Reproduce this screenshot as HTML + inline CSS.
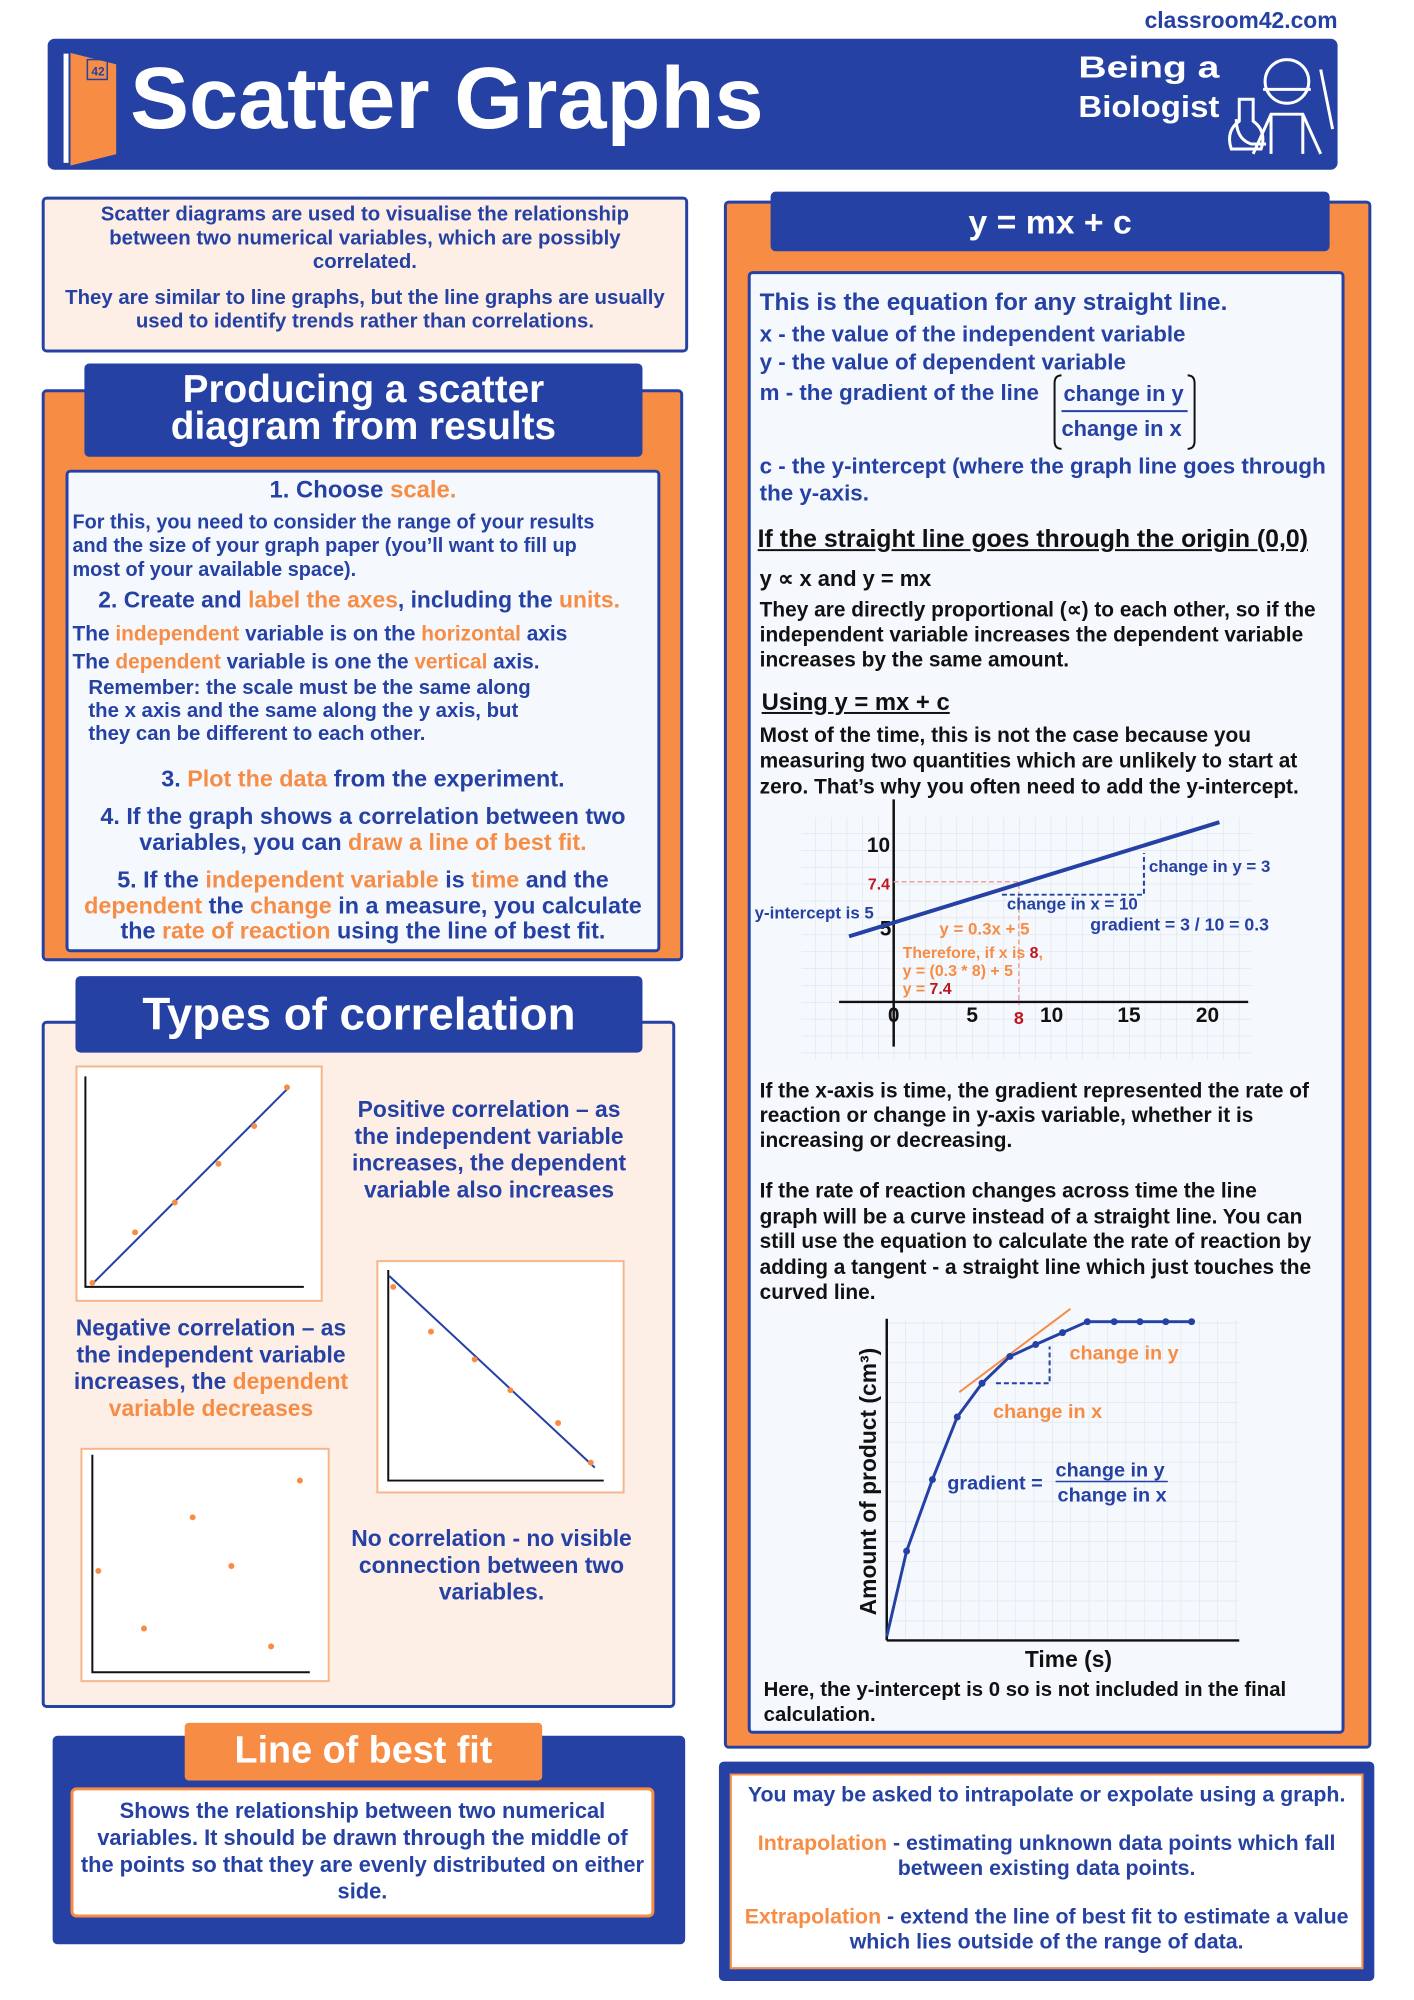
<!DOCTYPE html>
<html><head><meta charset="utf-8">
<style>
*{margin:0;padding:0;box-sizing:border-box}
body{width:1414px;height:2000px;position:relative;background:#fff;font-family:"Liberation Sans",sans-serif;font-weight:bold;color:#2541a3;overflow:hidden}
#w{position:absolute;left:0;top:0;width:1424px;height:2014px;transform:scale(0.993);transform-origin:0 0}
.a{position:absolute}
.t{position:absolute;white-space:nowrap;font-size:18px;line-height:24px}
.c{text-align:center}
.o{color:#f78c45}.r{color:#c0151f}.w{color:#fff}.k{color:#111}
.box{position:absolute;border:3px solid #2541a3;border-radius:5px}
</style></head><body><div id="w">

<div class="t" style="left:1100px;width:247px;text-align:right;top:6px;font-size:23px;line-height:28px">classroom42.com</div>
<div class="box" style="left:48px;top:39px;width:1299px;height:132px;background:#2541a3;border-radius:7px"></div>

<!-- left top -->
<div class="box" style="left:42px;top:198px;width:651px;height:157px;background:#fdeee6"></div>
<div class="t c" style="left:42px;width:651px;top:204px;font-size:20.5px">Scatter diagrams are used to visualise the relationship<br>between two numerical variables, which are possibly<br>correlated.</div>
<div class="t c" style="left:42px;width:651px;top:288px;font-size:20.5px">They are similar to line graphs, but the line graphs are usually<br>used to identify trends rather than correlations.</div>

<!-- producing -->
<div class="box" style="left:42px;top:392px;width:646px;height:576px;background:#f78c45"></div>
<div class="box" style="left:85px;top:366px;width:562px;height:94px;background:#2541a3"></div>
<div class="t c w" style="left:85px;width:562px;top:374px;font-size:39px;line-height:37px">Producing a scatter<br>diagram from results</div>
<div class="box" style="left:66px;top:473px;width:599px;height:486px;background:#f5f9fd"></div>
<div class="t c" style="left:66px;width:599px;top:482px;font-size:24px">1. Choose <span class="o">scale.</span></div>
<div class="t" style="left:73px;top:514px;font-size:20px">For this, you need to consider the range of your results<br>and the size of your graph paper (you’ll want to fill up<br>most of your available space).</div>
<div class="t" style="left:99px;top:592px;font-size:23px">2. Create and <span class="o">label the axes</span>, including the <span class="o">units.</span></div>
<div class="t" style="left:73px;top:627px;font-size:21px">The <span class="o">independent</span> variable is on the <span class="o">horizontal</span> axis</div>
<div class="t" style="left:73px;top:655px;font-size:21px">The <span class="o">dependent</span> variable is one the <span class="o">vertical</span> axis.</div>
<div class="t" style="left:89px;top:681px;font-size:20.5px;line-height:23px">Remember: the scale must be the same along<br>the x axis and the same along the y axis, but<br>they can be different to each other.</div>
<div class="t c" style="left:66px;width:599px;top:772px;font-size:23.5px">3. <span class="o">Plot the data</span> from the experiment.</div>
<div class="t c" style="left:66px;width:599px;top:810px;font-size:23.5px;line-height:25.5px">4. If the graph shows a correlation between two<br>variables, you can <span class="o">draw a line of best fit.</span></div>
<div class="t c" style="left:66px;width:599px;top:874px;font-size:23.5px;line-height:25.5px">5. If the <span class="o">independent variable</span> is <span class="o">time</span> and the<br><span class="o">dependent</span> the <span class="o">change</span> in a measure, you calculate<br>the <span class="o">rate of reaction</span> using the line of best fit.</div>

<!-- types -->
<div class="box" style="left:42px;top:1028px;width:638px;height:692px;background:#fdeee6"></div>
<div class="box" style="left:76px;top:983px;width:571px;height:77px;background:#2541a3"></div>
<div class="t c w" style="left:76px;width:571px;top:996px;font-size:46px;line-height:50px">Types of correlation</div>
<div class="a" style="left:76px;top:1073px;width:249px;height:238px;border:2px solid #f7b58a;background:#fff"></div>
<div class="a" style="left:379px;top:1269px;width:250px;height:235px;border:2px solid #f7b58a;background:#fff"></div>
<div class="a" style="left:81px;top:1458px;width:251px;height:236px;border:2px solid #f7b58a;background:#fff"></div>
<div class="t c" style="left:340px;width:305px;top:1104px;font-size:23px;line-height:27px">Positive correlation – as<br>the independent variable<br>increases, the dependent<br>variable also increases</div>
<div class="t c" style="left:60px;width:305px;top:1324px;font-size:23px;line-height:27px">Negative correlation – as<br>the independent variable<br>increases, the <span class="o">dependent</span><br><span class="o">variable decreases</span></div>
<div class="t c" style="left:340px;width:310px;top:1536px;font-size:23px;line-height:27px">No correlation - no visible<br>connection between two<br>variables.</div>

<!-- line of best fit -->
<div class="box" style="left:53px;top:1748px;width:637px;height:210px;background:#2541a3"></div>
<div class="a" style="left:186px;top:1735px;width:360px;height:58px;background:#f78c45;border-radius:4px"></div>
<div class="t c w" style="left:186px;width:360px;top:1744px;font-size:38px;line-height:38px">Line of best fit</div>
<div class="a" style="left:71px;top:1800px;width:588px;height:131px;background:#fff;border:3px solid #f78c45;border-radius:6px"></div>
<div class="t c" style="left:71px;width:588px;top:1810px;font-size:22px;line-height:27px">Shows the relationship between two numerical<br>variables. It should be drawn through the middle of<br>the points so that they are evenly distributed on either<br>side.</div>

<!-- right -->
<div class="box" style="left:729px;top:202px;width:652px;height:1559px;background:#f78c45"></div>
<div class="box" style="left:776px;top:193px;width:563px;height:60px;background:#2541a3"></div>
<div class="t c w" style="left:776px;width:563px;top:205px;font-size:34px;line-height:38px">y = mx + c</div>
<div class="box" style="left:753px;top:273px;width:601px;height:1473px;background:#f5f9fd"></div>
<div class="t" style="left:765px;top:291px;font-size:24.5px;line-height:28px">This is the equation for any straight line.</div>
<div class="t" style="left:765px;top:323px;font-size:22.5px;line-height:28px">x - the value of the independent variable<br>y - the value of dependent variable</div>
<div class="t" style="left:765px;top:384px;font-size:22.5px">m - the gradient of the line</div>
<div class="t" style="left:1071px;top:385px;font-size:22px">change in y</div>
<div class="t" style="left:1069px;top:420px;font-size:22px">change in x</div>
<div class="t" style="left:765px;top:456px;font-size:22.5px;line-height:27px">c - the y-intercept (where the graph line goes through<br>the y-axis.</div>
<div class="t k" style="left:763px;top:531px;font-size:25px;text-decoration:underline">If the straight line goes through the origin (0,0)</div>
<div class="t k" style="left:765px;top:571px;font-size:22px">y ∝ x and y = mx</div>
<div class="t k" style="left:765px;top:602px;font-size:21px;line-height:25px">They are directly proportional (∝) to each other, so if the<br>independent variable increases the dependent variable<br>increases by the same amount.</div>
<div class="t k" style="left:767px;top:696px;font-size:24px;text-decoration:underline">Using y = mx + c</div>
<div class="t k" style="left:765px;top:728px;font-size:21px;line-height:26px">Most of the time, this is not the case because you<br>measuring two quantities which are unlikely to start at<br>zero. That’s why you often need to add the y-intercept.</div>
<div class="t k" style="left:765px;top:1086px;font-size:21px;line-height:25px">If the x-axis is time, the gradient represented the rate of<br>reaction or change in y-axis variable, whether it is<br>increasing or decreasing.</div>
<div class="t k" style="left:765px;top:1187px;font-size:21px;line-height:25.5px">If the rate of reaction changes across time the line<br>graph will be a curve instead of a straight line. You can<br>still use the equation to calculate the rate of reaction by<br>adding a tangent - a straight line which just touches the<br>curved line.</div>
<div class="t k" style="left:769px;top:1689px;font-size:20.5px;line-height:25px">Here, the y-intercept is 0 so is not included in the final<br>calculation.</div>

<!-- bottom right -->
<div class="a" style="left:724px;top:1774px;width:660px;height:221px;background:#2541a3;border-radius:5px"></div>
<div class="a" style="left:735px;top:1786px;width:638px;height:197px;background:#fff;border:2px solid #f78c45"></div>
<div class="t c" style="left:735px;width:638px;top:1795px;font-size:21.5px">You may be asked to intrapolate or expolate using a graph.</div>
<div class="t c" style="left:735px;width:638px;top:1844px;font-size:21.5px;line-height:25px"><span class="o">Intrapolation</span> - estimating unknown data points which fall<br>between existing data points.</div>
<div class="t c" style="left:735px;width:638px;top:1918px;font-size:21.5px;line-height:25px"><span class="o">Extrapolation</span> - extend the line of best fit to estimate a value<br>which lies outside of the range of data.</div>

<svg class="a" style="left:0;top:0" width="1424" height="2014" xmlns="http://www.w3.org/2000/svg" font-family="Liberation Sans, sans-serif" font-weight="bold">
<defs>
<pattern id="g" width="15.8" height="17" patternUnits="userSpaceOnUse" x="900" y="1009"><path d="M0 0H15.8M0 0V17" stroke="#dde3ea" stroke-width="1.2" fill="none"/></pattern>
<pattern id="g2" width="18.5" height="20" patternUnits="userSpaceOnUse" x="893" y="1652"><path d="M0 0H18.5M0 0V20" stroke="#dde3ea" stroke-width="1.2" fill="none"/></pattern>
</defs>
<!-- header -->
<text x="131" y="129" font-size="88" fill="#fff" textLength="638" lengthAdjust="spacingAndGlyphs">Scatter Graphs</text>
<rect x="64" y="54" width="6" height="110" fill="#fff"/>
<path d="M70 52 L118 64 L118 156 L70 168Z" fill="#f78c45" stroke="#2541a3" stroke-width="2"/>
<rect x="88" y="60" width="20" height="20" fill="none" stroke="#2541a3" stroke-width="1.5"/>
<text x="92" y="76" font-size="12" fill="#2541a3">42</text>
<text x="1086" y="78" font-size="31" fill="#fff" textLength="142" lengthAdjust="spacingAndGlyphs">Being a</text>
<text x="1086" y="118" font-size="31" fill="#fff" textLength="142" lengthAdjust="spacingAndGlyphs">Biologist</text>
<g stroke="#fff" stroke-width="3" fill="none">
<circle cx="1296" cy="82" r="22"/><path d="M1272 90h48M1262 155l18-40h32l18 40M1280 115v40M1312 115v40M1245 120q0 20 15 25h15M1330 70l12 60"/>
<path d="M1248 100v22q-14 10-8 28h30q6-18-8-28v-22z"/>
</g>
<!-- chart 1 -->
<rect x="807" y="823" width="453" height="244" fill="url(#g)"/>
<line x1="845" y1="1009" x2="1257" y2="1009" stroke="#111" stroke-width="2.5"/>
<line x1="900" y1="805" x2="900" y2="1054" stroke="#111" stroke-width="2.5"/>
<text x="873" y="858" font-size="21" fill="#111">10</text>
<text x="886" y="942" font-size="21" fill="#111">5</text>
<g font-size="21" fill="#111" text-anchor="middle"><text x="900" y="1029">0</text><text x="979" y="1029">5</text><text x="1059" y="1029">10</text><text x="1137" y="1029">15</text><text x="1216" y="1029">20</text></g>
<text x="1026" y="1031" font-size="18" fill="#c0151f" text-anchor="middle">8</text>
<text x="874" y="896" font-size="16" fill="#c0151f">7.4</text>
<path d="M900 888H1026V1012" stroke="#f0a0a0" stroke-width="1.5" stroke-dasharray="5 3" fill="none"/>
<path d="M1009 901H1152V859" stroke="#2541a3" stroke-width="2" stroke-dasharray="5 3" fill="none"/>
<line x1="855" y1="943" x2="1228" y2="828" stroke="#2541a3" stroke-width="4"/>
<text x="760" y="925" font-size="17" fill="#2541a3">y-intercept is 5</text>
<text x="1157" y="878" font-size="17" fill="#2541a3">change in y = 3</text>
<text x="1014" y="916" font-size="17" fill="#2541a3">change in x = 10</text>
<text x="1098" y="937" font-size="17.8" fill="#2541a3">gradient = 3 / 10 = 0.3</text>
<text x="946" y="941" font-size="17" fill="#f78c45">y = 0.3x + 5</text>
<text x="909" y="965" font-size="16" fill="#f78c45">Therefore, if x is <tspan fill="#c0151f">8</tspan>,</text>
<text x="909" y="983" font-size="16" fill="#f78c45">y = (0.3 * 8) + 5</text>
<text x="909" y="1001" font-size="16" fill="#f78c45">y = <tspan fill="#c0151f">7.4</tspan></text>
<!-- brackets -->
<path d="M1069 378q-7 0-7 8v58q0 8 7 8M1196 378q7 0 7 8v58q0 8-7 8" stroke="#111" stroke-width="2" fill="none"/>
<line x1="1069" y1="414" x2="1196" y2="414" stroke="#2541a3" stroke-width="2"/>
<!-- chart 2 -->
<rect x="893" y="1330" width="354" height="320" fill="url(#g2)"/>
<line x1="893" y1="1652" x2="1248" y2="1652" stroke="#111" stroke-width="2.5"/>
<line x1="893" y1="1328" x2="893" y2="1652" stroke="#111" stroke-width="2.5"/>
<path d="M1003 1393H1057V1356" stroke="#2541a3" stroke-width="2" stroke-dasharray="5 3" fill="none"/>
<line x1="966" y1="1402" x2="1078" y2="1318" stroke="#f78c45" stroke-width="2"/>
<polyline points="893,1648 913,1562 939,1490 964,1427 989,1393 1017,1366 1043,1354 1070,1342 1095,1331 1122,1331 1148,1331 1174,1331 1200,1331" fill="none" stroke="#2541a3" stroke-width="3"/>
<g fill="#2541a3"><circle cx="913" cy="1562" r="3.5"/><circle cx="939" cy="1490" r="3.5"/><circle cx="964" cy="1427" r="3.5"/><circle cx="989" cy="1393" r="3.5"/><circle cx="1017" cy="1366" r="3.5"/><circle cx="1043" cy="1354" r="3.5"/><circle cx="1070" cy="1342" r="3.5"/><circle cx="1095" cy="1331" r="3.5"/><circle cx="1122" cy="1331" r="3.5"/><circle cx="1148" cy="1331" r="3.5"/><circle cx="1174" cy="1331" r="3.5"/><circle cx="1200" cy="1331" r="3.5"/></g>
<text x="1077" y="1369" font-size="20" fill="#f78c45">change in y</text>
<text x="1000" y="1428" font-size="20" fill="#f78c45">change in x</text>
<text x="954" y="1500" font-size="20" fill="#2541a3">gradient =</text>
<text x="1063" y="1487" font-size="20" fill="#2541a3">change in y</text>
<line x1="1063" y1="1492" x2="1176" y2="1492" stroke="#2541a3" stroke-width="1.5"/>
<text x="1065" y="1512" font-size="20" fill="#2541a3">change in x</text>
<text transform="translate(882,1492) rotate(-90)" font-size="23" fill="#111" text-anchor="middle">Amount of product (cm³)</text>
<text x="1076" y="1679" font-size="23" fill="#111" text-anchor="middle">Time (s)</text>
<!-- correlation graphs -->
<g stroke="#111" stroke-width="2" fill="none">
<path d="M86 1084V1296H306"/><path d="M391 1279V1491H608"/><path d="M93 1465V1684H312"/>
</g>
<line x1="93" y1="1293" x2="291" y2="1095" stroke="#2541a3" stroke-width="2"/>
<line x1="392" y1="1285" x2="599" y2="1478" stroke="#2541a3" stroke-width="2"/>
<g fill="#f78c45">
<circle cx="93" cy="1292" r="3"/><circle cx="136" cy="1241" r="3"/><circle cx="176" cy="1211" r="3"/><circle cx="220" cy="1172" r="3"/><circle cx="256" cy="1134" r="3"/><circle cx="289" cy="1095" r="3"/>
<circle cx="396" cy="1296" r="3"/><circle cx="434" cy="1341" r="3"/><circle cx="478" cy="1369" r="3"/><circle cx="514" cy="1400" r="3"/><circle cx="562" cy="1433" r="3"/><circle cx="595" cy="1473" r="3"/>
<circle cx="99" cy="1582" r="3"/><circle cx="194" cy="1528" r="3"/><circle cx="302" cy="1491" r="3"/><circle cx="233" cy="1577" r="3"/><circle cx="145" cy="1640" r="3"/><circle cx="273" cy="1658" r="3"/>
</g>
</svg>
</div></body></html>
